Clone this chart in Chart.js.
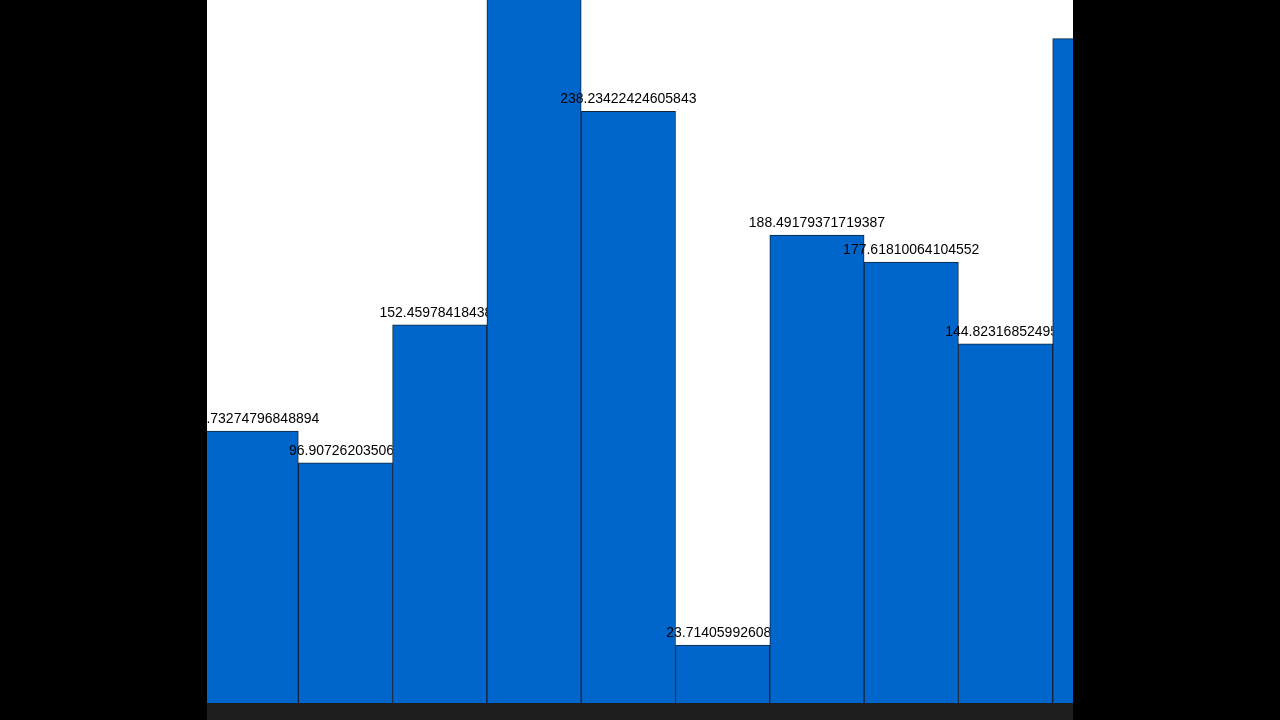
<!DOCTYPE html>
<html>
<head>
<meta charset="utf-8">
<script src="https://cdn.jsdelivr.net/npm/chart.js@4"></script>
<style>
  html, body { margin: 0; padding: 0; background: #000; width: 1280px; height: 720px; overflow: hidden; }
  #panel { position: absolute; left: 207px; top: 0; width: 866px; height: 703px; background: #fff; overflow: hidden; }
  #wrap { position: absolute; left: -3px; top: 0; width: 943px; height: 704px; }
  #strip { position: absolute; left: 207px; top: 703px; width: 866px; height: 17px; background: #1e1e1e; }
</style>
</head>
<body>
<div id="panel"><div id="wrap"><canvas id="chart"></canvas></div></div>
<div id="strip"></div>
<script>
const categories = ['1', '2', '3', '4', '5', '6', '7', '8', '9', '10'];
const values = [109.73274796848894, 96.90726203506200, 152.45978418438200, 300.1, 238.23422424605843,
                23.71405992608450, 188.49179371719387, 177.61810064104552, 144.82316852495600, 267.5];
const labels = ['109.73274796848894', '96.907262035062', '152.459784184382', '300.1', '238.23422424605843',
                '23.714059926084', '188.49179371719387', '177.61810064104552', '144.823168524956', '267.5'];

const valueLabels = {
    id: 'valueLabels',
    afterDatasetsDraw(chart) {
        const ctx = chart.ctx;
        const bars = chart.getDatasetMeta(0).data;
        ctx.save();
        ctx.font = '14px "Liberation Sans", Arial, sans-serif';
        ctx.fillStyle = '#000';
        ctx.textAlign = 'center';
        ctx.textBaseline = 'alphabetic';
        bars.forEach((bar, i) => {
            const y = bar.y - 8;
            ctx.save();
            const next = bars[i + 1];
            if (next && next.y < y) {
                ctx.beginPath();
                ctx.rect(0, 0, next.x - next.width / 2, chart.height);
                ctx.clip();
            }
            ctx.fillText(labels[i], bar.x, y);
            ctx.restore();
        });
        ctx.restore();
    }
};

new Chart(document.getElementById('chart'), {
    type: 'bar',
    data: {
        labels: categories,
        datasets: [{
            data: values,
            backgroundColor: '#0066cc',
            borderColor: '#10243a',
            borderWidth: 1,
            barPercentage: 1,
            categoryPercentage: 1
        }]
    },
    options: {
        responsive: true,
        maintainAspectRatio: false,
        animation: false,
        layout: { padding: 0 },
        plugins: { legend: { display: false }, tooltip: { enabled: false } },
        scales: {
            x: { display: false },
            y: { display: false, min: 0, max: 283 }
        }
    },
    plugins: [valueLabels]
});
</script>
</body>
</html>
